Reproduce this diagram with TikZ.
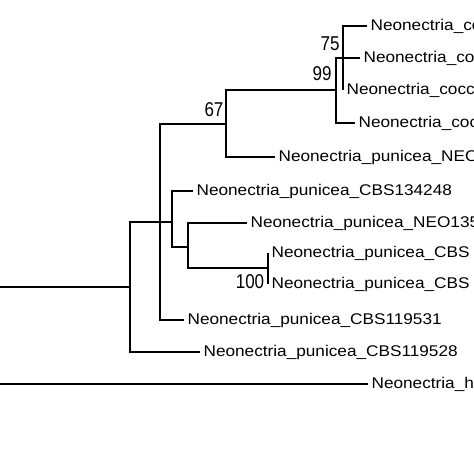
\documentclass[tikz,border=0pt]{standalone}
\usepackage{fontspec}
\setmainfont{Liberation Sans}[FakeStretch=1.11]
\newfontfamily\numfont{Liberation Sans}[FakeStretch=0.85]
\begin{document}
\begin{tikzpicture}[x=1pt,y=-1pt,line width=1.2pt,
  leaf/.style={anchor=west,inner xsep=3pt,inner ysep=0pt,text height=11pt,text depth=3pt,
    font=\fontsize{15.5}{18}\selectfont,text=black},
  support/.style={inner sep=0pt,font=\numfont\fontsize{20}{22}\selectfont}]
\useasboundingbox (0,0) rectangle (474,474);
\clip (0,0) rectangle (474,474);
% internal nodes
\coordinate (r0) at (0,287);
\coordinate (A) at (130,287);
\coordinate (B) at (160,222);
\coordinate (C) at (226,124);
\coordinate (D) at (336,90);
\coordinate (E) at (343,58);
\coordinate (F) at (172,222);
\coordinate (G) at (188,247);
\coordinate (H) at (268,268);
\coordinate (o0) at (0,384);
% leaves
\node[leaf] (l1) at (367,26) {Neonectria\_coccinea};
\node[leaf] (l2) at (360,58) {Neonectria\_coccinea};
\node[leaf] (l3) at (343,90) {Neonectria\_coccinea};
\node[leaf] (l4) at (355,123) {Neonectria\_coccinea};
\node[leaf] (l5) at (275,157) {Neonectria\_punicea\_NEO};
\node[leaf] (l6) at (193,191) {Neonectria\_punicea\_CBS134248};
\node[leaf] (l7) at (247,223) {Neonectria\_punicea\_NEO135};
\node[leaf] (l8) at (268,253) {Neonectria\_punicea\_CBS};
\node[leaf] (l9) at (268,284) {Neonectria\_punicea\_CBS};
\node[leaf] (l10) at (184,320) {Neonectria\_punicea\_CBS119531};
\node[leaf] (l11) at (200,352) {Neonectria\_punicea\_CBS119528};
\node[leaf] (l12) at (368,384) {Neonectria\_h};
% branches
\draw (r0) -- (A);
\draw (A) |- (B);
\draw (A) |- (l11.west);
\draw (B) |- (C);
\draw (B) -- (F);
\draw (B) |- (l10.west);
\draw (C) |- (D);
\draw (C) |- (l5.west);
\draw (D) |- (E);
\draw (D) |- (l4.west);
\draw (E) |- (l1.west);
\draw (E) -- (l2.west);
\draw (E) |- (l3.west);
\draw (F) |- (l6.west);
\draw (F) |- (G);
\draw (G) |- (l7.west);
\draw (G) |- (H);
\draw (H) -- (l8.west);
\draw (H) -- (l9.west);
\draw (o0) -- (l12.west);
% support values
\node[support] (s75) at (330,44) {75};
\node[support] (s99) at (322,74) {99};
\node[support] (s67) at (214,110) {67};
\node[support] (s100) at (250,282) {100};
\end{tikzpicture}
\end{document}
